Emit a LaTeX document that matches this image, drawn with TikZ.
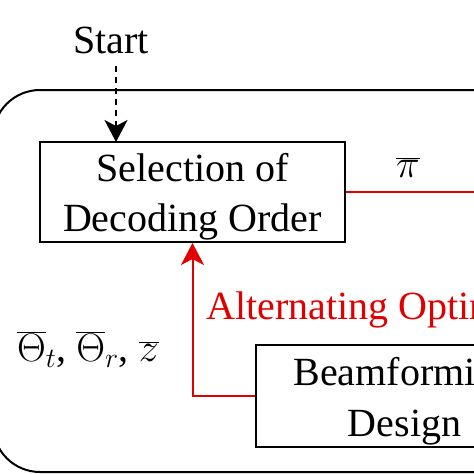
\RequirePackage{fix-cm}
\documentclass[tikz,border=0pt]{standalone}
\usepackage{fontspec}
\setmainfont{Liberation Serif}
\usetikzlibrary{arrows.meta}
\definecolor{figred}{RGB}{225,0,0}
\tikzset{
  every node/.style={font=\fontsize{40}{50}\selectfont},
  boxnode/.style={draw=black, line width=2pt, inner sep=0pt},
  txt/.style={inner sep=0pt, anchor=base},
  redline/.style={draw=figred, line width=2pt},
  redarrow/.style={redline, -{Stealth[length=22pt,width=23pt,inset=6pt]}},
  startarrow/.style={draw=black, line width=2.2pt, dash pattern=on 6pt off 5pt,
    -{Stealth[length=22pt,width=23pt,inset=6pt]}},
  outerframe/.style={draw=black, line width=2pt, rounded corners=47pt}
}
\begin{document}
\begin{tikzpicture}[x=1pt,y=-1pt]
\useasboundingbox (0,0) rectangle (474,474);
\clip (0,0) rectangle (474,474);
% outer frame
\draw[outerframe] (-7,90) rectangle (640,472);
% start
\node[txt] (start) at (111,53) {Start};
% selection box
\node[boxnode, minimum width=305pt, minimum height=100pt] (sel) at (192.5,192) {};
\node[txt] (sela) at (192.5,181) {Selection of};
\node[txt] (selb) at (192.5,231) {Decoding Order};
\coordinate (entry) at (116,142);
\draw[startarrow] ([yshift=-12pt]start.south -| entry) -- (entry);
% pi output
\coordinate (piout) at (500,192);
\draw[redline] (sel.east) -- (piout);
\node[txt] (pi) at (408,177) {$\overline{\pi}$};
% beamforming box
\node[boxnode, minimum width=298pt, minimum height=102pt] (beam) at (404.5,396) {};
\node[txt] (beama) at (404.5,385) {Beamforming};
\node[txt] (beamb) at (404.5,436) {Design};
% feedback
\draw[redarrow] (beam.west) -| (sel.south);
\node[txt, anchor=base west, text=figred] (alt) at (206,319) {Alternating Optimization};
\node[txt, anchor=base west] (theta) at (17,361) {$\overline{\Theta}_t$, $\overline{\Theta}_r$, $\overline{z}$};
\end{tikzpicture}
\end{document}
